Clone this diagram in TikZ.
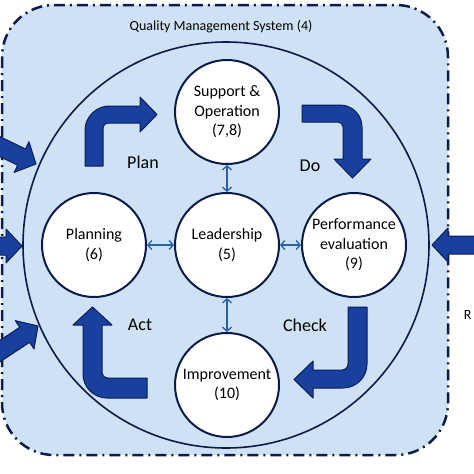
\documentclass[tikz,border=0pt]{standalone}
\usepackage{fontspec}
\setmainfont{Carlito}
\usetikzlibrary{arrows.meta,calc}

\definecolor{qmsback}{RGB}{207,225,244}
\definecolor{qmsnavy}{RGB}{12,28,72}
\definecolor{arrowfill}{RGB}{24,64,156}
\definecolor{arrowline}{RGB}{10,30,90}
\definecolor{linkblue}{RGB}{40,98,170}

\tikzset{
  stage/.style={circle,draw=qmsnavy,line width=2pt,fill=white,minimum size=104pt,
    inner sep=0pt,align=center,font=\fontsize{16}{19.5}\selectfont},
  bigarrow/.style={fill=arrowfill,draw=arrowline,line width=1pt,line join=round},
  link/.style={draw=linkblue,line width=1.3pt,
    {Straight Barb[length=4pt,width=9pt]}-{Straight Barb[length=4pt,width=9pt]}},
  phase/.style={font=\fontsize{18}{20}\selectfont}
}

% straight block arrow: #1 start, #2 tip
\newcommand{\inarrow}[2]{%
  \coordinate (s) at #1;
  \coordinate (t) at #2;
  \coordinate (b) at ($(t)!16pt!(s)$);
  \filldraw[bigarrow] ($(s)!9pt!90:(t)$) -- ($(b)!9pt!90:(t)$) -- ($(b)!17pt!90:(t)$)
    -- (t) -- ($(b)!17pt!-90:(t)$) -- ($(b)!9pt!-90:(t)$) -- ($(s)!9pt!-90:(t)$) -- cycle;
}

\begin{document}
\begin{tikzpicture}[x=1pt,y=-1pt]
  \useasboundingbox (0,0) rectangle (474,474);
  \clip (0,0) rectangle (474,474);
  \fill[white] (0,0) rectangle (474,474);

  %QMS box
  \draw[fill=qmsback,draw=qmsnavy,line width=2.5pt,dash pattern=on 11pt off 5pt on 2pt off 5pt,
    rounded corners=52pt] (2,5) rectangle (448,455);
  \node at (221,27) {\fontsize{14}{16}\selectfont Quality Management System (4)};
  \node[anchor=east] at (475,315) {\fontsize{14}{16}\selectfont R};

  \draw[qmsnavy,line width=1.6pt] (226,245) circle[radius=203pt];

  %inputs
  \inarrow{(-18,138)}{(36,164)}
  \inarrow{(-40,246)}{(22,246)}
  \inarrow{(-12,359)}{(38,326)}
  \inarrow{(520,245)}{(432,245)}

  %PDCA arrows
  \filldraw[bigarrow] (85,166) -- (85,130) .. controls (85,116.7) and (96.7,106) .. (109,106)
    -- (140,106) -- (140,97) -- (157,114.5) -- (140,132) -- (140,123) -- (108,123)
    .. controls (105.2,123) and (103,125.2) .. (103,128) -- (103,166) -- cycle;
  \filldraw[bigarrow] (302,105) -- (340,105) .. controls (352.2,105) and (362,114.8) .. (362,127)
    -- (362,159) -- (371,159) -- (352.5,178) -- (334,159) -- (343,159) -- (343,127)
    .. controls (343,124.2) and (340.8,122) .. (338,122) -- (302,122) -- cycle;
  \filldraw[bigarrow] (348,307) -- (367,307) -- (367,364) .. controls (367,377.3) and (356.3,388) .. (343,388)
    -- (313,388) -- (313,398) -- (294,379.5) -- (313,361) -- (313,370) -- (342,370)
    .. controls (345.3,370) and (348,367.3) .. (348,364) -- cycle;
  \filldraw[bigarrow] (147,398) -- (107,398) .. controls (93.7,398) and (83,387.3) .. (83,374)
    -- (83,325) -- (73,325) -- (92.5,307) -- (112,325) -- (102,325) -- (102,372)
    .. controls (102,375.3) and (104.7,378) .. (108,378) -- (147,378) -- cycle;

  \node[phase] (plantxt) at (143,162) {Plan};
  \node[phase] (dotxt) at (310,166) {Do};
  \node[phase] (acttxt) at (140,325) {Act};
  \node[phase] (checktxt) at (305,325) {Check};

  %clauses
  \node[stage] (supp) at (227,112) {Support \&\\Operation\\(7,8)};
  \node[stage] (lead) at (227,245) {Leadership\\(5)};
  \node[stage] (plan) at (94,245) {Planning\\(6)};
  \node[stage] (perf) at (354,245) {Performance\\evaluation\\(9)};
  \node[stage] (impr) at (227,385) {Improvement\\(10)};

  \draw[link] (lead) -- (supp);
  \draw[link] (lead) -- (plan);
  \draw[link] (lead) -- (perf);
  \draw[link] (lead) -- (impr);

\end{tikzpicture}
\end{document}
